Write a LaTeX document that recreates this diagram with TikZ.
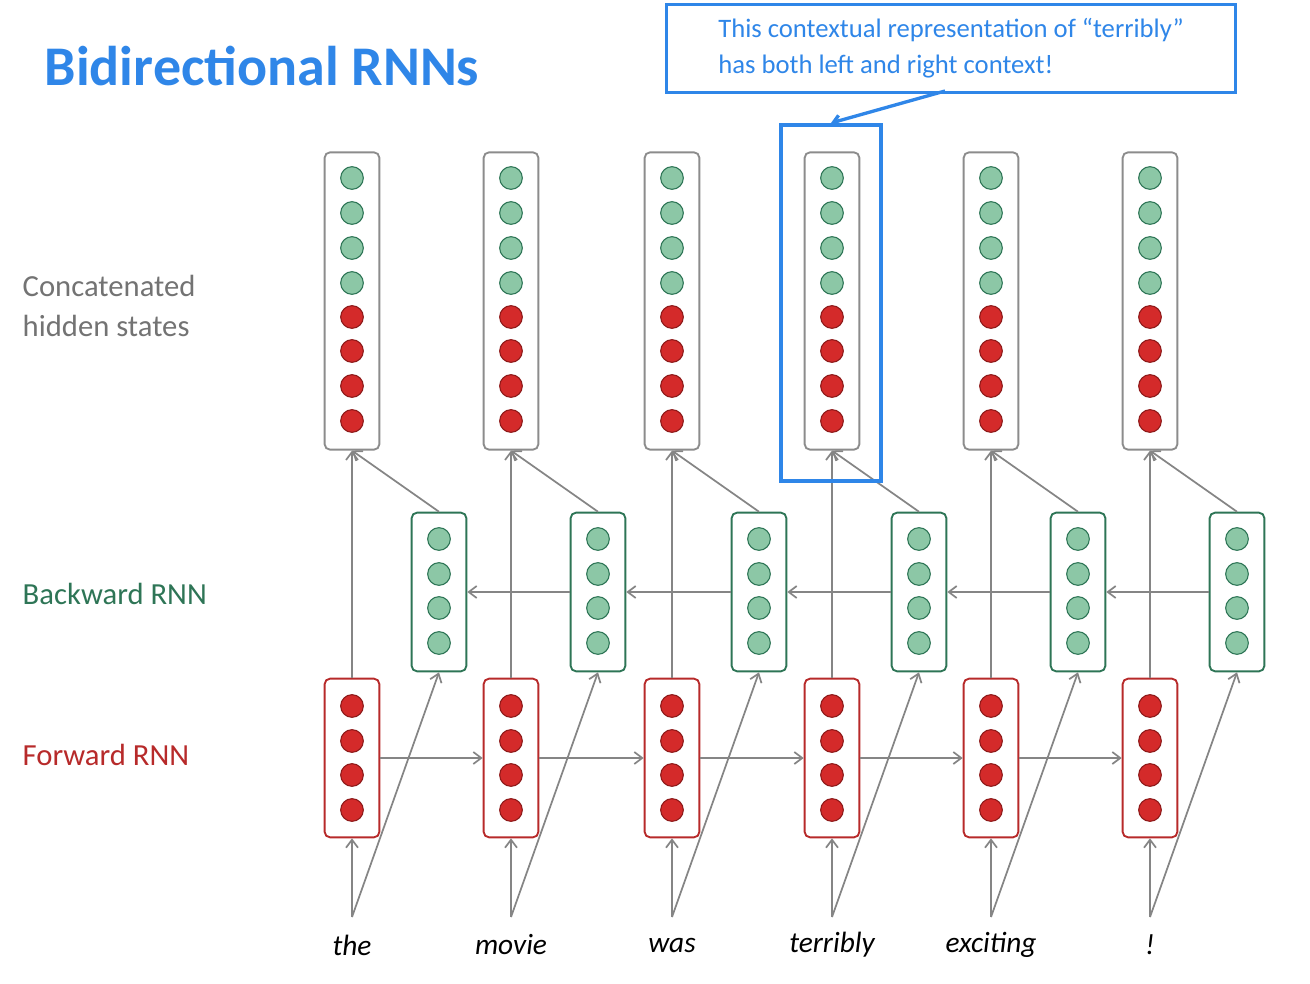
\documentclass[tikz,border=0pt]{standalone}
\usepackage{fontspec}
\setmainfont{Carlito}
\usetikzlibrary{arrows.meta}
\definecolor{tblue}{HTML}{2F86E8}
\definecolor{gfill}{HTML}{8CC7A6}
\definecolor{gline}{HTML}{2E7556}
\definecolor{rfill}{HTML}{D42A2A}
\definecolor{rline}{HTML}{8E1A1A}
\definecolor{boxr}{HTML}{B72A2A}
\definecolor{arr}{HTML}{858585}
\begin{document}
\begin{tikzpicture}[x=0.75pt,y=-0.75pt,
  vec/.style={draw, rounded corners=4pt, line width=1.4pt, minimum width=41pt, inner sep=0pt},
  gc/.style={circle, draw=gline, fill=gfill, line width=0.8pt, minimum size=17pt, inner sep=0pt},
  rc/.style={circle, draw=rline, fill=rfill, line width=0.8pt, minimum size=17pt, inner sep=0pt},
  ar/.style={-{Straight Barb[length=6pt,width=9pt]}, draw=arr, line width=1.3pt},
  word/.style={font=\fontsize{22}{26}\selectfont\itshape, inner sep=1pt}]
\useasboundingbox (0,0) rectangle (1310,984);
% title and labels
\node[anchor=west, text=tblue, font=\fontsize{42}{48}\selectfont\bfseries] (title) at (40,66) {Bidirectional RNNs};
\node[anchor=west, text=black!55, align=left, font=\fontsize{23}{30}\selectfont] (lc) at (18,306) {Concatenated\\hidden states};
\node[anchor=west, text=gline, font=\fontsize{23}{28}\selectfont] (lb) at (18,594) {Backward RNN};
\node[anchor=west, text=boxr, font=\fontsize{23}{28}\selectfont] (lf) at (18,755) {Forward RNN};
% columns
\foreach \i/\x/\w in {1/352/the,2/511/movie,3/672/was,4/832/terribly,5/991/exciting,6/1150/!}{
  \node[vec, draw=black!45, minimum height=223pt] (c\i) at (\x,301) {};
  \foreach \k/\y in {1/178,2/213,3/248,4/283}{\node[gc] (c\i g\k) at (\x,\y) {};}
  \foreach \k/\y in {1/317,2/351,3/386,4/421}{\node[rc] (c\i r\k) at (\x,\y) {};}
  \node[vec, draw=boxr, minimum height=119pt] (f\i) at (\x,758) {};
  \foreach \k/\y in {1/706,2/741,3/775,4/810}{\node[rc] (f\i r\k) at (\x,\y) {};}
  \node[vec, draw=gline, minimum height=119pt] (b\i) at (\x+87,592) {};
  \foreach \k/\y in {1/539,2/574,3/608,4/643}{\node[gc] (b\i g\k) at (\x+87,\y) {};}
  \node[word] (w\i) at (\x,945) {\w};
  \coordinate (ws\i) at (\x,917);
}
\foreach \i in {1,...,6}{
  \draw[ar] (ws\i) -- (f\i.south);
  \draw[ar] (ws\i) -- (b\i.south);
  \draw[ar] (f\i.north) -- (c\i.south);
  \draw[ar] (b\i.north) -- (c\i.south);
}
\foreach \i/\j in {1/2,2/3,3/4,4/5,5/6}{
  \draw[ar] (f\i.east) -- (f\j.west);
  \draw[ar] (b\j.west) -- (b\i.east);
}
% highlight and callout
\node[draw=tblue, line width=3pt, minimum width=75pt, minimum height=267pt, inner sep=0pt] (hl) at (831,303) {};
\node[draw=tblue, line width=2.2pt, anchor=north west, minimum width=427pt, minimum height=66pt, align=left, text=tblue, font=\fontsize{20}{27}\selectfont, inner sep=10pt] (call) at (665,3) {This contextual representation of “terribly”\\has both left and right context!};
\coordinate (pt) at (945,91);
\draw[tblue, line width=2.5pt, -{Straight Barb[length=5pt,width=8pt]}] (pt) -- (hl.north);
\end{tikzpicture}
\end{document}
